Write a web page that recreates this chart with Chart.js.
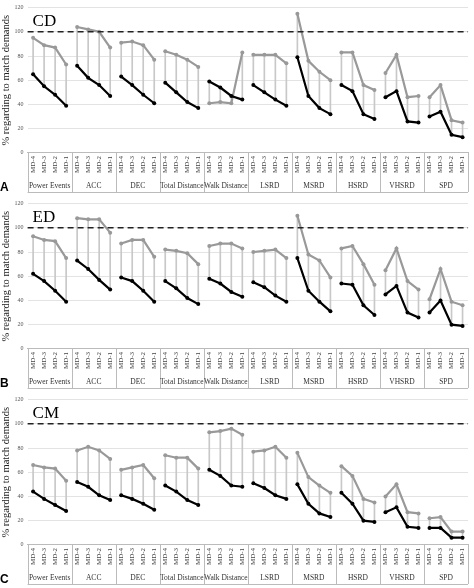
<!DOCTYPE html>
<html><head><meta charset="utf-8">
<script src="https://cdn.jsdelivr.net/npm/chart.js@4/dist/chart.umd.min.js"></script>
<style>body{margin:0;background:#fff;width:474px}.p{position:relative;width:474px;height:196px}</style>
</head><body>
<div class="p"><canvas id="c0"></canvas></div>
<div class="p"><canvas id="c1"></canvas></div>
<div class="p"><canvas id="c2"></canvas></div>
<script>
const groups=["Power Events","ACC","DEC","Total Distance","Walk Distance","LSRD","MSRD","HSRD","VHSRD","SPD"];
const days=["MD-4","MD-3","MD-2","MD-1"];
const yTicks=[0,20,40,60,80,100,120];
const panelNames=["CD","ED","CM"];
const panelLetters=["A","B","C"];
const cdBlack=[65,55,48,39,72,62,56,47,63,56,48,41,58,50,42,37,59,54,47,44,56,50,44,39,79,47,37,32,56,51,32,28,46,51,26,25,30,34,15,13];
const cdGray=[95,89,87,73,104,102,100,87,91,92,89,77,84,81,77,71,41,42,41,83,81,81,81,74,115,76,67,60,83,83,56,52,66,81,46,47,46,56,27,25];
const edBlack=[62,56,48,39,73,66,57,49,59,56,48,39,56,50,42,37,58,54,47,43,55,51,44,39,75,48,39,31,54,53,36,28,45,52,30,26,30,40,20,19];
const edGray=[93,90,89,75,108,107,107,96,87,90,90,76,82,81,79,70,85,87,87,83,80,81,82,75,110,78,73,59,83,85,70,53,65,83,56,49,41,66,39,36];
const cmBlack=[44,38,33,28,52,48,41,37,41,38,34,29,49,44,37,33,62,57,49,48,51,47,41,38,50,34,26,23,43,34,20,19,27,31,15,14,14,14,6,6];
const cmGray=[66,64,63,53,78,81,78,71,62,64,66,55,74,72,72,63,93,94,96,91,77,78,81,72,76,56,49,43,65,57,38,35,40,50,27,26,22,23,11,11];
const refLine=100;
const series=[[cdBlack,cdGray],[edBlack,edGray],[cmBlack,cmGray]];
const labels=[];groups.forEach(()=>days.forEach(d=>labels.push(d)));
const SERIF="'Liberation Serif','DejaVu Serif',serif";

const deco={id:'deco',
 afterDatasetsDraw(ch,a,o){const c=ch.ctx,ca=ch.chartArea,y=ch.scales.y.getPixelForValue(refLine);
  c.save();c.setLineDash([6,4]);c.strokeStyle='#222';c.lineWidth=1.5;c.beginPath();c.moveTo(ca.left,y);c.lineTo(ca.right,y);c.stroke();c.restore();},
 afterDraw(ch,a,o){const c=ch.ctx,ca=ch.chartArea,x=ch.scales.x,w=x.getPixelForValue(1)-x.getPixelForValue(0);
  c.save();c.strokeStyle='#bbb';c.lineWidth=1;const bot=ch.height-4;
  for(let g=0;g<=groups.length;g++){const px=Math.round(x.getPixelForValue(g*4)-w/2)+0.5;c.beginPath();c.moveTo(px,ca.bottom);c.lineTo(px,bot);c.stroke();}
  c.beginPath();c.moveTo(ca.left,bot+0.5);c.lineTo(ca.right,bot+0.5);c.stroke();
  c.fillStyle='#333';c.font='7.5px '+SERIF;c.textAlign='center';c.textBaseline='middle';
  groups.forEach((g,i)=>{c.fillText(g,(x.getPixelForValue(i*4)+x.getPixelForValue(i*4+3))/2,bot-6);});
  c.fillStyle='#000';c.font='17px '+SERIF;c.textAlign='left';c.textBaseline='top';c.fillText(o.name,ca.left+5,ca.top+5);
  c.font='bold 12px "Liberation Sans",Arial,sans-serif';c.textBaseline='bottom';c.fillText(o.letter,0,bot+2);
  c.restore();}};

series.forEach((s,k)=>{
 const seg=col=>({borderColor:cx=>(cx.p0DataIndex%4===3)?'rgba(0,0,0,0)':col});
 new Chart(document.getElementById('c'+k),{
  data:{labels,datasets:[
   {type:'line',data:s[1],borderColor:'#999',backgroundColor:'#999',borderWidth:2.2,pointRadius:2,pointBackgroundColor:'#999',pointBorderWidth:0,segment:seg('#999'),order:1},
   {type:'line',data:s[0],borderColor:'#000',backgroundColor:'#000',borderWidth:2.2,pointRadius:2,pointBackgroundColor:'#000',pointBorderWidth:0,segment:seg('#000'),order:0},
   {type:'bar',data:s[0].map((v,i)=>[v,s[1][i]]),backgroundColor:'#c8c8c8',barThickness:1,order:2}
  ]},
  options:{responsive:true,maintainAspectRatio:false,animation:false,
   layout:{padding:{top:3,bottom:20,right:1}},
   plugins:{legend:{display:false},tooltip:{enabled:false},deco:{name:panelNames[k],letter:panelLetters[k]}},
   scales:{
    x:{grid:{display:false,drawTicks:false},border:{color:'#bbb'},ticks:{font:{size:7,family:SERIF},color:'#444',maxRotation:90,minRotation:90,autoSkip:false,padding:3}},
    y:{min:0,max:120,afterBuildTicks:ax=>{ax.ticks=yTicks.map(v=>({value:v}));},grid:{color:'#e3e3e3',drawTicks:false},border:{display:false},
     ticks:{font:{size:6,family:SERIF},color:'#555',padding:4},
     title:{display:true,text:'% regarding to match demands',font:{size:10.5,family:SERIF},color:'#222',padding:{top:0,bottom:-2}}}
   }},
  plugins:[deco]});
});
</script></body></html>
